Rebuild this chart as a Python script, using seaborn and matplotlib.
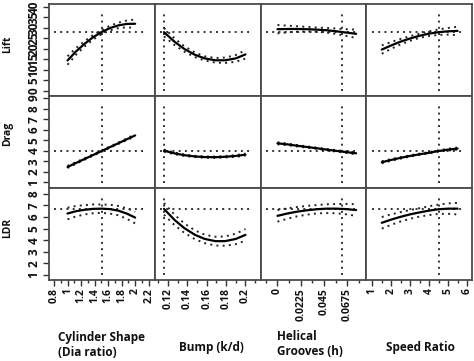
import numpy as np
import pandas as pd
import matplotlib.pyplot as plt
import seaborn as sns
from matplotlib.ticker import FixedLocator, MultipleLocator

sns.set_theme(style='white')
plt.rcParams['font.family'] = ['Open Sans', 'DejaVu Sans']
plt.rcParams['font.weight'] = 'bold'

# factor settings
cyl_x = [1.0, 1.125, 1.25, 1.375, 1.5, 1.625, 1.75, 1.875, 2.0]
bump_x = [0.116, 0.127, 0.137, 0.148, 0.158, 0.169, 0.179, 0.19, 0.2]
groove_x = [0, 0.0095, 0.019, 0.0285, 0.038, 0.0475, 0.057, 0.0665, 0.076]
speed_x = [1.5, 2.0, 2.5, 3.0, 3.5, 4.0, 4.5, 5.0, 5.5]

# Lift
lift_cyl = [14.5, 18.8, 22.4, 25.5, 28.0, 29.9, 31.2, 31.9, 32.0]
lift_bump = [28.0, 23.4, 20.0, 17.2, 15.5, 14.6, 14.6, 15.5, 17.4]
lift_groove = [29.4, 29.5, 29.5, 29.4, 29.2, 28.9, 28.4, 27.8, 27.2]
lift_speed = [19.7, 21.7, 23.5, 25.0, 26.3, 27.3, 28.0, 28.4, 28.6]
# Drag
drag_cyl = [2.45, 2.83, 3.2, 3.58, 3.95, 4.33, 4.7, 5.08, 5.45]
drag_bump = [4.0, 3.74, 3.57, 3.45, 3.39, 3.38, 3.42, 3.5, 3.62]
drag_groove = [4.7, 4.6, 4.47, 4.35, 4.23, 4.1, 3.98, 3.86, 3.75]
drag_speed = [2.9, 3.12, 3.32, 3.5, 3.66, 3.8, 3.97, 4.1, 4.2]
# LDR
ldr_cyl = [6.3, 6.5, 6.62, 6.7, 6.72, 6.68, 6.55, 6.3, 5.95]
ldr_bump = [6.7, 5.74, 5.04, 4.46, 4.11, 3.92, 3.92, 4.11, 4.46]
ldr_groove = [6.1, 6.3, 6.46, 6.58, 6.67, 6.72, 6.72, 6.68, 6.6]
ldr_speed = [5.5, 5.78, 6.02, 6.23, 6.4, 6.55, 6.67, 6.72, 6.72]

# confidence half widths
lift_ci = [2.0, 1.6, 1.3, 1.1, 1.0, 1.1, 1.3, 1.6, 2.0]
drag_ci = [0.1, 0.08, 0.07, 0.06, 0.06, 0.06, 0.07, 0.08, 0.1]
ldr_ci = [0.5, 0.45, 0.4, 0.38, 0.36, 0.38, 0.4, 0.45, 0.5]

current_x = [1.51, 0.116, 0.062, 4.53]
current_y = [28.0, 4.0, 6.7]

responses = ['Lift', 'Drag', 'LDR']
xs = [cyl_x, bump_x, groove_x, speed_x]
curves = [[lift_cyl, lift_bump, lift_groove, lift_speed],
          [drag_cyl, drag_bump, drag_groove, drag_speed],
          [ldr_cyl, ldr_bump, ldr_groove, ldr_speed]]
cis = [lift_ci, drag_ci, ldr_ci]

xlims = [(0.726, 2.29), (0.1065, 0.2155), (-0.0164, 0.0858), (0.68, 6.26)]
ylims = [(-2.4, 41.4), (0.45, 9.2), (0.57, 8.5)]
xticks = [[0.8, 1, 1.2, 1.4, 1.6, 1.8, 2, 2.2],
          [0.12, 0.14, 0.16, 0.18, 0.2],
          [0, 0.0225, 0.045, 0.0675],
          [1, 2, 3, 4, 5, 6]]
xticklabels = [['0.8', '1', '1.2', '1.4', '1.6', '1.8', '2', '2.2'],
               ['0.12', '0.14', '0.16', '0.18', '0.2'],
               ['0', '0.0225', '0.045', '0.0675'],
               ['1', '2', '3', '4', '5', '6']]
xminor = [0.1, 0.01, 0.01125, 0.5]
yticks = [list(range(0, 41, 5)), list(range(1, 10)), list(range(1, 9))]

fig, axes = plt.subplots(3, 4, figsize=(4.74, 3.61), dpi=100,
                         sharex='col', sharey='row')
fig.subplots_adjust(left=49/474, right=472/474, top=1-4/361,
                    bottom=1-280/361, wspace=0, hspace=0)

dot = (0, (1, 2.2))
for r in range(3):
    for c in range(4):
        ax = axes[r, c]
        df = pd.DataFrame({'x': xs[c], 'y': curves[r][c], 'ci': cis[r]})
        df['lo'] = df['y'] - df['ci']
        df['hi'] = df['y'] + df['ci']
        ax.axvline(current_x[c], ymin=0.055, ymax=0.89, color='#333333',
                   lw=1.4, ls=dot, dash_capstyle='butt')
        ax.axhline(current_y[r], xmin=0.05, xmax=0.91, color='#333333',
                   lw=1.4, ls=dot, dash_capstyle='butt')
        for col in ['lo', 'hi']:
            sns.lineplot(data=df, x='x', y=col, ax=ax, color='#222222',
                         lw=1.4, ls=dot, dash_capstyle='butt')
        sns.lineplot(data=df, x='x', y='y', ax=ax, color='black', lw=1.6)
        ax.set_xlim(*xlims[c])
        ax.set_ylim(*ylims[r])
        ax.set_xlabel('')
        ax.set_ylabel('')
        for s in ax.spines.values():
            s.set_color('#4a4a4a')
            s.set_linewidth(1.3)
        ax.tick_params(which='both', bottom=False, left=False,
                       labelbottom=False, labelleft=False)

for r in range(3):
    ax = axes[r, 0]
    ax.yaxis.set_major_locator(FixedLocator(yticks[r]))
    ax.tick_params(axis='y', which='major', left=True, labelleft=True,
                   length=4, width=1, color='#333333', pad=2,
                   labelsize=8.5, labelrotation=90, labelcolor='#111111')
    for t in ax.get_yticklabels():
        t.set_va('center')
        t.set_fontweight('bold')

for c in range(4):
    ax = axes[2, c]
    ax.set_xticks(xticks[c])
    ax.set_xticklabels(xticklabels[c], rotation=90, fontsize=7.5,
                       fontweight='bold', color='#111111')
    ax.xaxis.set_minor_locator(MultipleLocator(xminor[c]))
    ax.tick_params(axis='x', which='major', bottom=True, labelbottom=True,
                   length=4, width=1, color='#333333', pad=2)
    ax.tick_params(axis='x', which='minor', bottom=True, length=2.5,
                   width=1, color='#333333')

ylab = [('Lift', 44), ('Drag', 134), ('LDR', 228)]
for txt, yp in ylab:
    fig.text(8/474, 1-yp/361, txt, rotation=90, ha='center', va='center',
             fontsize=7.5, fontweight='bold', color='#111111')

fig.text(58/474, 1-345/361, 'Cylinder Shape\n(Dia ratio)', ha='left',
         va='center', fontsize=8.5, fontweight='bold', linespacing=1.15,
         color='#111111')
fig.text(211/474, 1-347/361, 'Bump (k/d)', ha='center', va='center',
         fontsize=8.5, fontweight='bold', color='#111111')
fig.text(277/474, 1-344/361, 'Helical\nGrooves (h)', ha='left',
         va='center', fontsize=8.5, fontweight='bold', linespacing=1.15,
         color='#111111')
fig.text(420/474, 1-347/361, 'Speed Ratio', ha='center', va='center',
         fontsize=8.5, fontweight='bold', color='#111111')

fig.savefig('out.png', dpi=100, facecolor='white')
